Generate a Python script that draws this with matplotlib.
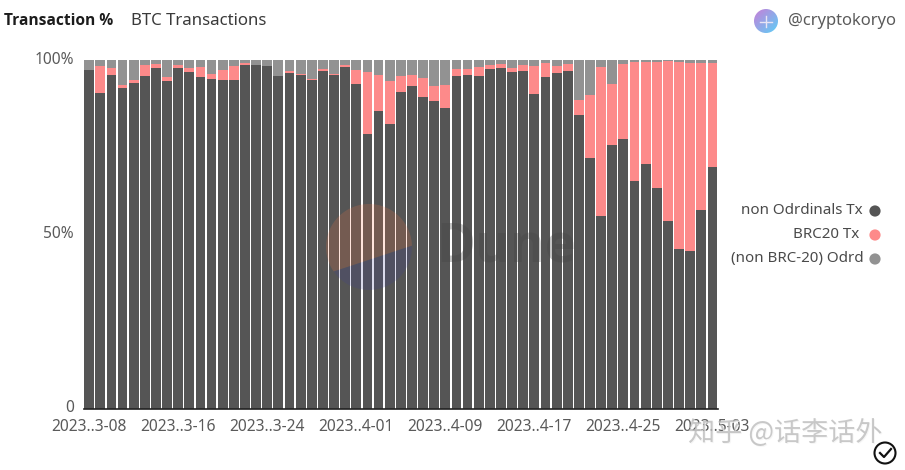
import matplotlib
matplotlib.use("Agg")
import numpy as np
import matplotlib.pyplot as plt
from matplotlib.patches import Circle, Polygon, Rectangle
from matplotlib.transforms import ScaledTranslation

non_ordinals = [97.2, 90.5, 95.7, 92.0, 93.4, 95.4, 97.7, 94.0, 97.7, 96.5, 95.1, 94.5, 94.2, 94.3,
                98.6, 98.6, 98.4, 95.5, 96.3, 95.7, 94.3, 96.8, 95.7, 98.1, 93.2, 78.7, 85.4, 81.7,
                90.8, 92.5, 89.5, 88.3, 86.3, 95.5, 95.8, 95.4, 97.4, 97.6, 96.6, 96.9, 90.2, 95.2,
                96.4, 96.9, 84.2, 71.8, 55.2, 75.6, 77.2, 65.2, 70.1, 63.2, 53.8, 45.7, 45.1, 56.9, 69.3]
brc20_top = [97.2, 98.3, 97.6, 92.8, 94.2, 98.6, 98.9, 95.2, 98.7, 97.8, 98.0, 96.1, 97.0, 98.3,
             99.1, 98.6, 98.4, 95.5, 96.8, 96.0, 94.5, 97.3, 96.0, 98.6, 97.1, 96.6, 95.7, 94.1,
             95.4, 95.7, 94.8, 92.6, 92.8, 97.5, 97.4, 98.0, 98.7, 98.9, 97.7, 98.6, 98.3, 99.1,
             98.3, 98.9, 88.4, 90.1, 98.0, 93.1, 98.9, 99.3, 99.3, 99.3, 99.7, 99.3, 99.1, 99.1, 99.0]
other_top = [100.0] * 57
x_labels = ["2023..3-08", "2023..3-16", "2023..3-24", "2023..4-01",
            "2023..4-09", "2023..4-17", "2023..4-25", "2023..5-03"]
x_label_positions = [0, 8, 16, 24, 32, 40, 48, 56]
y_values = [0, 50, 100]
y_labels = ["0", "50%", "100%"]
legend_names = ["non Odrdinals Tx", "BRC20 Tx", "(non BRC-20) Odrd"]

C_DARK, C_PINK, C_GRAY = "#555555", "#fd8a8a", "#929292"
W, H = 905, 470
FONT = "Noto Sans"
plt.rcParams["font.family"] = [FONT, "DejaVu Sans"]

fig = plt.figure(figsize=(W / 100, H / 100), dpi=100, facecolor="white")
ax = fig.add_axes([83.6 / W, 1 - 408.5 / H, 634.4 / W, 348.5 / H])

idx = np.arange(len(non_ordinals))
dark = np.array(non_ordinals)
brc = np.array(brc20_top) - dark
oth = np.array(other_top) - np.array(brc20_top)
bw = 0.88
ax.bar(idx, dark, width=bw, color=C_DARK, linewidth=0)
ax.bar(idx, brc, bottom=dark, width=bw, color=C_PINK, linewidth=0)
ax.bar(idx, oth, bottom=dark + brc, width=bw, color=C_GRAY, linewidth=0)
ax.set_xlim(-0.5, 56.5)
ax.set_ylim(0, 100)
for s in ["top", "right", "left"]:
    ax.spines[s].set_visible(False)
ax.spines["bottom"].set_color("#222222")
ax.spines["bottom"].set_linewidth(1.2)
ax.set_xticks(x_label_positions, x_labels)
ax.set_yticks(y_values, y_labels)
ax.tick_params(axis="both", length=0, labelcolor="#5a5a5a", labelsize=11.2)
ax.tick_params(axis="x", pad=7.5)
ax.tick_params(axis="y", pad=7)
for lab in ax.get_yticklabels():
    lab.set_transform(lab.get_transform() + ScaledTranslation(0, 1.5 / 72, fig.dpi_scale_trans))

# overlay in pixel coordinates
ov = fig.add_axes([0, 0, 1, 1], facecolor="none")
ov.set_xlim(0, W)
ov.set_ylim(H, 0)
ov.axis("off")

# Dune watermark
cx, cy, r = 369, 247, 43
clip = Circle((cx, cy), r, transform=ov.transData)
up = Polygon([(320, 276), (420, 243), (420, 190), (320, 190)], color="#ff7a45", alpha=0.19, lw=0)
lo = Polygon([(320, 276), (420, 243), (420, 300), (320, 300)], color="#3d3f9e", alpha=0.19, lw=0)
for p in (up, lo):
    ov.add_patch(p)
    p.set_clip_path(clip)
ov.text(436, 247, "Dune", fontsize=38, color="#444444", alpha=0.3, ha="left", va="center",
        family="Open Sans", fontweight="bold")

# header
ov.text(4, 21, "Transaction %", fontsize=11.2, fontweight="bold", color="#1c1c1c", va="center",
        family="Open Sans")
ov.text(131, 21, "BTC Transactions", fontsize=12.1, color="#3a3a3a", va="center")
ov.text(788, 21, "@cryptokoryo", fontsize=11.9, color="#5a5a5a", va="center")

# avatar
yy, xx = np.mgrid[0:1:40j, 0:1:40j]
g = (xx + yy) / 2
grad = np.dstack([0.78 - 0.42 * g, 0.50 + 0.32 * g, 0.85 + 0.12 * g])
im = ov.imshow(grad, extent=(754, 778, 33, 9), aspect="auto", zorder=2)
im.set_clip_path(Circle((766, 21), 12, transform=ov.transData))
ov.set_xlim(0, W)
ov.set_ylim(H, 0)
ov.plot([760, 772], [22, 22], color="#e8e4f4", lw=1, zorder=3)
ov.plot([766, 766], [16, 27], color="#e8e4f4", lw=1, zorder=3)

# legend
leg_y = [211, 235, 259]
leg_x0 = [741, 793, 731]
leg_c = [C_DARK, C_PINK, C_GRAY]
for name, y, x0, c in zip(legend_names, leg_y, leg_x0, leg_c):
    t = ov.text(x0, y - 0.5, name, fontsize=10.9, color="#4a4a4a", va="center", ha="left")
    t.set_clip_on(True)
    t.set_clip_path(Rectangle((700, y - 15), 163, 30, transform=ov.transData))
    ov.add_patch(Circle((875, y), 5.6, color=c, lw=0))

# zhihu watermark
wm = "知乎 @话李话外"
fam = ["Noto Sans CJK SC", "DejaVu Sans"]
ov.text(689, 434, wm, fontsize=19.5, color="#f4f4f4", va="center", family=fam, alpha=0.8)
ov.text(688, 433, wm, fontsize=19.5, color="#b4b4b4", va="center", family=fam, alpha=0.7)

# check mark
ov.add_patch(Circle((885, 453), 10.5, facecolor="white", edgecolor="#111111", lw=1.5, zorder=4))
ov.plot([880, 884, 891], [453, 457, 449], color="#111111", lw=1.6, zorder=5)

fig.savefig("out.png", dpi=100, facecolor="white")
